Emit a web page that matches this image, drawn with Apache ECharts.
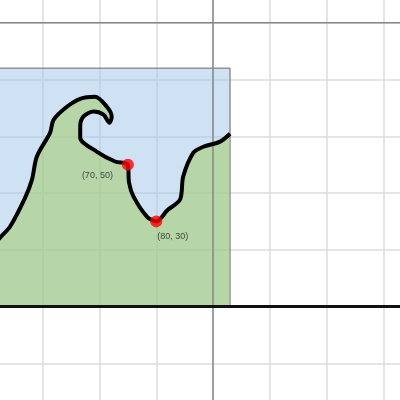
<!DOCTYPE html><html><head><meta charset="utf-8">
<script src="https://cdn.jsdelivr.net/npm/echarts@6/dist/echarts.min.js"></script>
<style>html,body{margin:0;padding:0;background:#fff;overflow:hidden;width:400px;height:400px}#c{position:absolute;left:-14px;top:-34px;width:454px;height:454px}</style></head><body><div id="c"></div>
<script>
const curveX=[20,25.0,28.5,33.8,36.2,37.9,42.6,43.8,48.5,53.2,58.4,62.6,64.3,63.5,61.4,57.9,54.3,53.2,53.2,59.0,65.5,70,70.4,72.0,76.7,80,84,88.4,89.5,93.1,96.6,102.5,106];
const curveY=[18,24.3,28.2,38.4,44.7,52.8,61.3,65.8,70.4,73.2,73.9,70.4,66.9,64.8,67.6,68.7,66.9,63.4,59.5,54.6,51.1,50,43.7,38.7,31.7,30,34,37.7,45.8,54.2,56.3,58.1,60.9];
const skyBox=[20,106,0,84];
const ptX=[70,80], ptY=[50,30], ptLabels=['(70, 50)','(80, 30)'];
const curve=curveX.map((x,i)=>[x,curveY[i]]);
const ch=echarts.init(document.getElementById('c'));
ch.setOption({animation:false,
grid:{left:0,right:0,top:0,bottom:0},
xAxis:{type:'value',min:20,max:180,interval:20,axisLabel:{show:false},axisTick:{show:false},axisLine:{show:false},splitLine:{lineStyle:{color:'#ddd',width:1.5}}},
yAxis:{type:'value',min:-40,max:120,interval:20,axisLabel:{show:false},axisTick:{show:false},axisLine:{show:false},splitLine:{lineStyle:{color:'#ddd',width:1.5}}},
series:[
{type:'custom',z:1,data:[0],renderItem:(p,api)=>{const a=api.coord([skyBox[0],skyBox[3]]),b=api.coord([skyBox[1],skyBox[2]]);
 return {type:'rect',shape:{x:a[0],y:a[1],width:b[0]-a[0],height:b[1]-a[1]},style:{fill:'rgba(159,197,231,0.5)',stroke:'#666',lineWidth:1}};}},
{type:'custom',z:2,data:[0],renderItem:(p,api)=>{const pts=curve.map(c=>api.coord(c));pts.push(api.coord([106,0]));pts.push(api.coord([20,0]));
 return {type:'polygon',shape:{points:pts,smooth:0},style:{fill:'rgba(157,204,93,0.5)'}};}},
{type:'line',z:3,data:[[20,100],[180,100]],symbol:'none',lineStyle:{color:'#888',width:1.5},silent:true},
{type:'line',z:3,data:[[100,-40],[100,120]],symbol:'none',lineStyle:{color:'#888',width:1.5}},
{type:'line',z:4,data:[[20,0],[180,0]],symbol:'none',lineStyle:{color:'#111',width:3}},
{type:'line',z:5,data:curve,smooth:0.3,symbol:'none',lineStyle:{color:'#000',width:4}},
{type:'scatter',z:6,symbolSize:12,itemStyle:{color:'#f00'},data:ptX.map((x,i)=>({value:[x,ptY[i]],label:{show:true,formatter:ptLabels[i],fontSize:9,fontFamily:'Liberation Sans',color:'#222',position:i?[7,17]:[-40,12]}}))}
]});
</script></body></html>
